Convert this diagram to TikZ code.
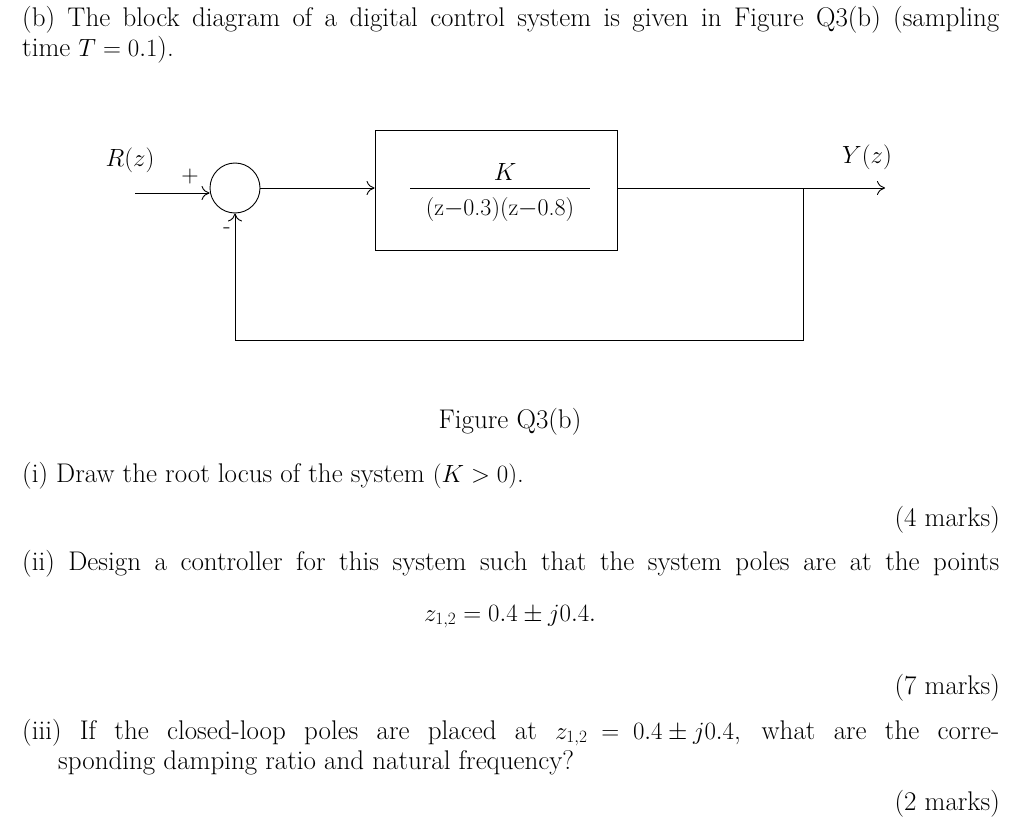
\documentclass[tikz,border=0pt]{standalone}
\usetikzlibrary{arrows.meta}
\begin{document}
\begin{tikzpicture}[x=1pt,y=-1pt,
  txt/.style={anchor=base west,inner sep=0pt,font=\fontsize{27}{32}\selectfont},
  dg/.style={inner sep=0pt,font=\fontsize{24}{28}\selectfont},
  wire/.style={line width=0.9pt},
  arr/.style={wire,-{To[length=8pt,width=14pt]}}]
\useasboundingbox (0,0) rectangle (1024,829);
\fill[white] (0,0) rectangle (1024,829);
% text
\node[txt] (t1) at (22,27) {\makebox[977pt][s]{(b) The block diagram of a digital control system is given in Figure Q3(b) (sampling}};
\node[txt] (t2) at (22,57) {time $T=0.1$).};
% diagram
\node[dg] (R) at (130,160) {$R(z)$};
\node[draw,circle,wire,minimum size=50pt,inner sep=0pt] (S) at (235,188) {};
\coordinate (in) at (135,193);
\draw[arr] (in) -- (S.west|-in);
\node[dg] (plus) at (190,177) {+};
\node[dg] (minus) at (227,231) {-};
\node[draw,wire,minimum width=242pt,minimum height=120pt,inner sep=0pt] (G) at (496,190) {};
\draw[arr] (S.east) -- (S.east-|G.west);
\node[dg] (K) at (505,172) {$K$};
\draw[wire] (410,188) -- (590,188);
\node[dg] (den) at (500,210) {(z$-$0.3)(z$-$0.8)};
\coordinate (out) at (885,188);
\draw[arr] (G.east|-out) -- (out);
\node[dg] (Y) at (867,157) {$Y(z)$};
\coordinate (br) at (803,188);
\coordinate (c1) at (803,340);
\coordinate (c2) at (235,340);
\draw[arr] (br) -- (c1) -- (c2) -- (S.south);
% caption and questions
\node[txt,anchor=base] (cap) at (510,428) {Figure Q3(b)};
\node[txt] (q1) at (22,482) {(i) Draw the root locus of the system $(K>0)$.};
\node[txt,anchor=base east] (m1) at (1000,526) {(4 marks)};
\node[txt] (q2) at (22,570) {\makebox[977pt][s]{(ii) Design a controller for this system such that the system poles are at the points}};
\node[txt,anchor=base] (eq) at (510,621) {$z_{1,2}=0.4\pm j0.4.$};
\node[txt,anchor=base east] (m2) at (1000,694) {(7 marks)};
\node[txt] (q3) at (22,739) {\makebox[977pt][s]{(iii) If the closed-loop poles are placed at \mbox{$z_{1,2}\;=\;0.4\pm j0.4$}, what are the corre-}};
\node[txt] (q3b) at (58,769) {sponding damping ratio and natural frequency?};
\node[txt,anchor=base east] (m3) at (1000,810) {(2 marks)};
\end{tikzpicture}
\end{document}
